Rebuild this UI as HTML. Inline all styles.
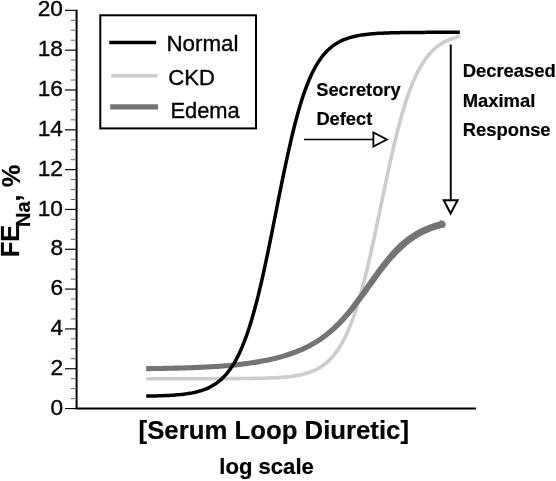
<!DOCTYPE html>
<html><head><meta charset="utf-8"><title>Loop diuretic dose response</title>
<style>
html,body{margin:0;padding:0;background:#fff;}
body{width:556px;height:481px;overflow:hidden;font-family:"Liberation Sans",sans-serif;}
svg{display:block;font-family:"Liberation Sans",sans-serif;}
</style></head><body>
<svg width="556" height="481" viewBox="0 0 556 481">
<rect width="556" height="481" fill="#fff"/>
<!-- axes -->
<line x1="76.6" x2="76.6" y1="9.80" y2="408.55" stroke="#000" stroke-width="2"/>
<line x1="75.6" x2="475.9" y1="408.55" y2="408.55" stroke="#000" stroke-width="2"/>
<line x1="65" x2="76.6" y1="408.55" y2="408.55" stroke="#000" stroke-width="1.15"/>
<text x="63" y="414.65" text-anchor="end" font-size="22.7" fill="#000" stroke="#000" stroke-width="0.35">0</text>
<line x1="70.7" x2="76.6" y1="398.60" y2="398.60" stroke="#6a6a6a" stroke-width="1"/>
<line x1="70.7" x2="76.6" y1="388.64" y2="388.64" stroke="#6a6a6a" stroke-width="1"/>
<line x1="70.7" x2="76.6" y1="378.69" y2="378.69" stroke="#6a6a6a" stroke-width="1"/>
<line x1="65" x2="76.6" y1="368.73" y2="368.73" stroke="#000" stroke-width="1.15"/>
<text x="63" y="374.83" text-anchor="end" font-size="22.7" fill="#000" stroke="#000" stroke-width="0.35">2</text>
<line x1="70.7" x2="76.6" y1="358.78" y2="358.78" stroke="#6a6a6a" stroke-width="1"/>
<line x1="70.7" x2="76.6" y1="348.82" y2="348.82" stroke="#6a6a6a" stroke-width="1"/>
<line x1="70.7" x2="76.6" y1="338.87" y2="338.87" stroke="#6a6a6a" stroke-width="1"/>
<line x1="65" x2="76.6" y1="328.91" y2="328.91" stroke="#000" stroke-width="1.15"/>
<text x="63" y="335.01" text-anchor="end" font-size="22.7" fill="#000" stroke="#000" stroke-width="0.35">4</text>
<line x1="70.7" x2="76.6" y1="318.96" y2="318.96" stroke="#6a6a6a" stroke-width="1"/>
<line x1="70.7" x2="76.6" y1="309.00" y2="309.00" stroke="#6a6a6a" stroke-width="1"/>
<line x1="70.7" x2="76.6" y1="299.05" y2="299.05" stroke="#6a6a6a" stroke-width="1"/>
<line x1="65" x2="76.6" y1="289.09" y2="289.09" stroke="#000" stroke-width="1.15"/>
<text x="63" y="295.19" text-anchor="end" font-size="22.7" fill="#000" stroke="#000" stroke-width="0.35">6</text>
<line x1="70.7" x2="76.6" y1="279.13" y2="279.13" stroke="#6a6a6a" stroke-width="1"/>
<line x1="70.7" x2="76.6" y1="269.18" y2="269.18" stroke="#6a6a6a" stroke-width="1"/>
<line x1="70.7" x2="76.6" y1="259.23" y2="259.23" stroke="#6a6a6a" stroke-width="1"/>
<line x1="65" x2="76.6" y1="249.27" y2="249.27" stroke="#000" stroke-width="1.15"/>
<text x="63" y="255.37" text-anchor="end" font-size="22.7" fill="#000" stroke="#000" stroke-width="0.35">8</text>
<line x1="70.7" x2="76.6" y1="239.31" y2="239.31" stroke="#6a6a6a" stroke-width="1"/>
<line x1="70.7" x2="76.6" y1="229.36" y2="229.36" stroke="#6a6a6a" stroke-width="1"/>
<line x1="70.7" x2="76.6" y1="219.41" y2="219.41" stroke="#6a6a6a" stroke-width="1"/>
<line x1="65" x2="76.6" y1="209.45" y2="209.45" stroke="#000" stroke-width="1.15"/>
<text x="63" y="215.55" text-anchor="end" font-size="22.7" fill="#000" stroke="#000" stroke-width="0.35">10</text>
<line x1="70.7" x2="76.6" y1="199.50" y2="199.50" stroke="#6a6a6a" stroke-width="1"/>
<line x1="70.7" x2="76.6" y1="189.54" y2="189.54" stroke="#6a6a6a" stroke-width="1"/>
<line x1="70.7" x2="76.6" y1="179.59" y2="179.59" stroke="#6a6a6a" stroke-width="1"/>
<line x1="65" x2="76.6" y1="169.63" y2="169.63" stroke="#000" stroke-width="1.15"/>
<text x="63" y="175.73" text-anchor="end" font-size="22.7" fill="#000" stroke="#000" stroke-width="0.35">12</text>
<line x1="70.7" x2="76.6" y1="159.68" y2="159.68" stroke="#6a6a6a" stroke-width="1"/>
<line x1="70.7" x2="76.6" y1="149.72" y2="149.72" stroke="#6a6a6a" stroke-width="1"/>
<line x1="70.7" x2="76.6" y1="139.76" y2="139.76" stroke="#6a6a6a" stroke-width="1"/>
<line x1="65" x2="76.6" y1="129.81" y2="129.81" stroke="#000" stroke-width="1.15"/>
<text x="63" y="135.91" text-anchor="end" font-size="22.7" fill="#000" stroke="#000" stroke-width="0.35">14</text>
<line x1="70.7" x2="76.6" y1="119.86" y2="119.86" stroke="#6a6a6a" stroke-width="1"/>
<line x1="70.7" x2="76.6" y1="109.90" y2="109.90" stroke="#6a6a6a" stroke-width="1"/>
<line x1="70.7" x2="76.6" y1="99.94" y2="99.94" stroke="#6a6a6a" stroke-width="1"/>
<line x1="65" x2="76.6" y1="89.99" y2="89.99" stroke="#000" stroke-width="1.15"/>
<text x="63" y="96.09" text-anchor="end" font-size="22.7" fill="#000" stroke="#000" stroke-width="0.35">16</text>
<line x1="70.7" x2="76.6" y1="80.04" y2="80.04" stroke="#6a6a6a" stroke-width="1"/>
<line x1="70.7" x2="76.6" y1="70.08" y2="70.08" stroke="#6a6a6a" stroke-width="1"/>
<line x1="70.7" x2="76.6" y1="60.12" y2="60.12" stroke="#6a6a6a" stroke-width="1"/>
<line x1="65" x2="76.6" y1="50.17" y2="50.17" stroke="#000" stroke-width="1.15"/>
<text x="63" y="56.27" text-anchor="end" font-size="22.7" fill="#000" stroke="#000" stroke-width="0.35">18</text>
<line x1="70.7" x2="76.6" y1="40.22" y2="40.22" stroke="#6a6a6a" stroke-width="1"/>
<line x1="70.7" x2="76.6" y1="30.26" y2="30.26" stroke="#6a6a6a" stroke-width="1"/>
<line x1="70.7" x2="76.6" y1="20.31" y2="20.31" stroke="#6a6a6a" stroke-width="1"/>
<line x1="65" x2="76.6" y1="10.35" y2="10.35" stroke="#000" stroke-width="1.15"/>
<text x="63" y="16.45" text-anchor="end" font-size="22.7" fill="#000" stroke="#000" stroke-width="0.35">20</text>

<!-- curves -->
<path d="M146.20 378.70 L148.29 378.70 L150.38 378.70 L152.47 378.70 L154.56 378.70 L156.65 378.70 L158.74 378.70 L160.83 378.70 L162.93 378.70 L165.02 378.70 L167.11 378.70 L169.20 378.70 L171.29 378.70 L173.38 378.70 L175.47 378.70 L177.56 378.70 L179.65 378.70 L181.74 378.69 L183.83 378.69 L185.92 378.69 L188.01 378.69 L190.10 378.69 L192.19 378.69 L194.29 378.69 L196.38 378.69 L198.47 378.69 L200.56 378.68 L202.65 378.68 L204.74 378.68 L206.83 378.68 L208.92 378.68 L211.01 378.67 L213.10 378.67 L215.19 378.67 L217.28 378.66 L219.37 378.66 L221.46 378.65 L223.55 378.65 L225.65 378.64 L227.74 378.63 L229.83 378.62 L231.92 378.61 L234.01 378.60 L236.10 378.59 L238.19 378.58 L240.28 378.56 L242.37 378.54 L244.46 378.53 L246.55 378.50 L248.64 378.48 L250.73 378.45 L252.82 378.42 L254.91 378.39 L257.01 378.35 L259.10 378.31 L261.19 378.26 L263.28 378.20 L265.37 378.14 L267.46 378.07 L269.55 378.00 L271.64 377.91 L273.73 377.81 L275.82 377.70 L277.91 377.58 L280.00 377.44 L282.09 377.29 L284.18 377.11 L286.27 376.92 L288.37 376.70 L290.46 376.46 L292.55 376.18 L294.64 375.87 L296.73 375.53 L298.82 375.14 L300.91 374.71 L303.00 374.22 L305.09 373.68 L307.18 373.07 L309.27 372.39 L311.36 371.63 L313.45 370.78 L315.54 369.83 L317.63 368.76 L319.73 367.58 L321.82 366.26 L323.91 364.78 L326.00 363.14 L328.09 361.32 L330.18 359.30 L332.27 357.06 L334.36 354.58 L336.45 351.83 L338.54 348.81 L340.63 345.48 L342.72 341.82 L344.81 337.81 L346.90 333.42 L348.99 328.65 L351.09 323.46 L353.18 317.85 L355.27 311.79 L357.36 305.29 L359.45 298.34 L361.54 290.94 L363.63 283.11 L365.72 274.86 L367.81 266.21 L369.90 257.20 L371.99 247.88 L374.08 238.28 L376.17 228.47 L378.26 218.51 L380.35 208.46 L382.45 198.39 L384.54 188.36 L386.63 178.45 L388.72 168.72 L390.81 159.22 L392.90 150.01 L394.99 141.14 L397.08 132.64 L399.17 124.54 L401.26 116.87 L403.35 109.64 L405.44 102.87 L407.53 96.54 L409.62 90.65 L411.71 85.20 L413.81 80.18 L415.90 75.55 L417.99 71.32 L420.08 67.44 L422.17 63.91 L424.26 60.70 L426.35 57.78 L428.44 55.14 L430.53 52.76 L432.62 50.60 L434.71 48.66 L436.80 46.91 L438.89 45.33 L440.98 43.92 L443.07 42.65 L445.17 41.52 L447.26 40.50 L449.35 39.59 L451.44 38.77 L453.53 38.04 L455.62 37.39 L457.71 36.80 L459.80 36.28" fill="none" stroke="#cdcdcd" stroke-width="3.6"/>
<path d="M146.17 366.08 L147.66 366.07 L149.15 366.05 L150.64 366.03 L152.13 366.01 L153.62 365.99 L155.10 365.97 L156.59 365.95 L158.08 365.93 L159.57 365.90 L161.06 365.88 L162.55 365.85 L164.03 365.83 L165.52 365.80 L167.01 365.77 L168.50 365.74 L169.99 365.71 L171.47 365.68 L172.96 365.65 L174.45 365.62 L175.94 365.58 L177.43 365.54 L178.91 365.51 L180.40 365.47 L181.89 365.42 L183.38 365.38 L184.86 365.34 L186.35 365.29 L187.84 365.24 L189.32 365.20 L190.81 365.14 L192.30 365.09 L193.78 365.04 L195.27 364.98 L196.76 364.92 L198.24 364.86 L199.73 364.79 L201.21 364.73 L202.70 364.66 L204.19 364.59 L205.67 364.51 L207.16 364.44 L208.64 364.36 L210.13 364.28 L211.61 364.19 L213.10 364.10 L214.58 364.01 L216.06 363.92 L217.55 363.82 L219.03 363.72 L220.52 363.61 L222.00 363.50 L223.48 363.39 L224.97 363.27 L226.45 363.15 L227.93 363.02 L229.41 362.89 L230.89 362.76 L232.38 362.62 L233.86 362.47 L235.34 362.33 L236.82 362.17 L238.30 362.01 L239.78 361.84 L241.26 361.67 L242.74 361.50 L244.22 361.31 L245.70 361.12 L247.18 360.93 L248.66 360.73 L250.14 360.52 L251.61 360.30 L253.09 360.08 L254.57 359.85 L256.05 359.61 L257.52 359.36 L259.00 359.11 L260.48 358.84 L261.95 358.57 L263.43 358.29 L264.90 358.00 L266.38 357.70 L267.85 357.40 L269.32 357.08 L270.80 356.75 L272.27 356.41 L273.74 356.06 L275.21 355.70 L276.68 355.32 L278.15 354.94 L279.62 354.54 L281.09 354.13 L282.56 353.70 L284.03 353.26 L285.50 352.81 L286.96 352.34 L288.43 351.86 L289.90 351.36 L291.36 350.85 L292.83 350.32 L294.29 349.77 L295.75 349.20 L297.22 348.61 L298.68 348.00 L300.14 347.38 L301.60 346.73 L303.06 346.06 L304.52 345.37 L305.98 344.65 L307.44 343.91 L308.90 343.14 L310.35 342.34 L311.81 341.52 L313.27 340.67 L314.72 339.79 L316.18 338.88 L317.64 337.93 L319.09 336.95 L320.54 335.93 L321.98 334.87 L323.43 333.78 L324.88 332.65 L326.33 331.48 L327.77 330.27 L329.22 329.02 L330.67 327.73 L332.12 326.40 L333.57 325.02 L335.02 323.61 L336.47 322.15 L337.92 320.64 L339.38 319.09 L340.83 317.50 L342.28 315.87 L343.74 314.19 L345.20 312.47 L346.66 310.71 L348.12 308.91 L349.58 307.07 L351.04 305.19 L352.50 303.28 L353.97 301.34 L355.43 299.36 L356.90 297.36 L358.37 295.33 L359.84 293.29 L361.31 291.22 L362.79 289.14 L364.26 287.05 L365.74 284.95 L367.22 282.84 L368.70 280.74 L370.18 278.64 L371.66 276.55 L373.15 274.47 L374.63 272.41 L376.12 270.36 L377.61 268.34 L379.09 266.33 L380.58 264.36 L382.06 262.41 L383.55 260.51 L385.05 258.63 L386.54 256.80 L388.04 255.01 L389.54 253.26 L391.04 251.55 L392.55 249.90 L394.06 248.28 L395.57 246.72 L397.08 245.20 L398.61 243.75 L400.15 242.36 L401.70 241.01 L403.24 239.71 L404.79 238.47 L406.33 237.27 L407.88 236.12 L409.43 235.02 L410.98 233.97 L412.54 232.96 L414.09 232.00 L415.64 231.08 L417.20 230.20 L418.75 229.37 L420.30 228.58 L421.86 227.82 L423.41 227.10 L424.96 226.42 L426.51 225.78 L428.06 225.17 L429.61 224.59 L431.15 224.04 L432.70 223.52 L434.24 223.02 L435.78 222.56 L437.32 222.12 L438.86 221.70 L440.39 221.31 L441.92 220.94 L443.44 220.60 L444.96 227.23 L443.50 227.57 L442.05 227.92 L440.60 228.30 L439.16 228.70 L437.72 229.11 L436.28 229.56 L434.84 230.02 L433.41 230.51 L431.97 231.03 L430.54 231.57 L429.11 232.14 L427.68 232.75 L426.25 233.38 L424.82 234.05 L423.40 234.75 L421.97 235.48 L420.54 236.26 L419.12 237.07 L417.69 237.92 L416.26 238.81 L414.84 239.74 L413.41 240.72 L411.98 241.74 L410.55 242.81 L409.11 243.93 L407.68 245.09 L406.24 246.31 L404.81 247.57 L403.37 248.88 L401.92 250.24 L400.45 251.64 L398.98 253.08 L397.51 254.58 L396.04 256.13 L394.56 257.73 L393.08 259.37 L391.60 261.07 L390.11 262.81 L388.63 264.59 L387.14 266.42 L385.64 268.29 L384.15 270.19 L382.65 272.12 L381.16 274.10 L379.67 276.10 L378.17 278.12 L376.68 280.16 L375.18 282.23 L373.68 284.30 L372.18 286.38 L370.68 288.46 L369.18 290.55 L367.67 292.63 L366.17 294.71 L364.66 296.77 L363.15 298.82 L361.64 300.86 L360.13 302.87 L358.61 304.85 L357.10 306.81 L355.58 308.74 L354.06 310.64 L352.54 312.51 L351.02 314.33 L349.50 316.12 L347.98 317.87 L346.46 319.58 L344.93 321.25 L343.40 322.88 L341.88 324.46 L340.35 326.00 L338.82 327.49 L337.29 328.95 L335.76 330.36 L334.23 331.72 L332.70 333.05 L331.17 334.33 L329.63 335.57 L328.10 336.77 L326.57 337.93 L325.04 339.05 L323.50 340.13 L321.97 341.17 L320.44 342.19 L318.92 343.18 L317.40 344.13 L315.87 345.05 L314.35 345.94 L312.83 346.80 L311.30 347.63 L309.78 348.43 L308.26 349.21 L306.74 349.96 L305.22 350.68 L303.70 351.38 L302.18 352.05 L300.66 352.70 L299.14 353.33 L297.63 353.94 L296.11 354.53 L294.59 355.10 L293.08 355.65 L291.56 356.18 L290.05 356.70 L288.54 357.20 L287.02 357.68 L285.51 358.14 L284.00 358.60 L282.49 359.03 L280.98 359.46 L279.47 359.86 L277.96 360.26 L276.45 360.64 L274.94 361.01 L273.43 361.37 L271.92 361.72 L270.42 362.06 L268.91 362.38 L267.40 362.70 L265.90 363.00 L264.39 363.30 L262.89 363.59 L261.38 363.86 L259.88 364.13 L258.38 364.39 L256.87 364.64 L255.37 364.88 L253.87 365.12 L252.37 365.35 L250.86 365.57 L249.36 365.78 L247.86 365.98 L246.36 366.18 L244.86 366.37 L243.36 366.56 L241.86 366.74 L240.36 366.91 L238.86 367.08 L237.36 367.24 L235.86 367.40 L234.36 367.55 L232.86 367.70 L231.37 367.84 L229.87 367.97 L228.37 368.10 L226.87 368.23 L225.37 368.35 L223.88 368.47 L222.38 368.59 L220.88 368.70 L219.39 368.80 L217.89 368.91 L216.40 369.01 L214.90 369.10 L213.40 369.19 L211.91 369.28 L210.41 369.37 L208.92 369.45 L207.42 369.53 L205.93 369.61 L204.43 369.68 L202.94 369.75 L201.45 369.82 L199.95 369.89 L198.46 369.95 L196.96 370.02 L195.47 370.08 L193.98 370.13 L192.48 370.19 L190.99 370.24 L189.50 370.29 L188.00 370.34 L186.51 370.39 L185.02 370.44 L183.52 370.48 L182.03 370.52 L180.54 370.56 L179.05 370.60 L177.55 370.64 L176.06 370.68 L174.57 370.71 L173.08 370.75 L171.59 370.78 L170.09 370.81 L168.60 370.84 L167.11 370.87 L165.62 370.90 L164.13 370.93 L162.63 370.95 L161.14 370.98 L159.65 371.00 L158.16 371.03 L156.67 371.05 L155.18 371.07 L153.68 371.09 L152.19 371.11 L150.70 371.13 L149.21 371.15 L147.72 371.17 L146.23 371.18Z" fill="#747474" stroke="none"/>
<circle cx="442.4" cy="224.4" r="3.2" fill="#747474"/><rect x="439.6" y="220.3" width="2.6" height="2.5" rx="0.8" fill="#747474"/>
<path d="M146.20 396.12 L148.29 396.09 L150.38 396.05 L152.47 396.01 L154.56 395.96 L156.65 395.90 L158.74 395.84 L160.83 395.77 L162.93 395.70 L165.02 395.61 L167.11 395.51 L169.20 395.41 L171.29 395.28 L173.38 395.15 L175.47 394.99 L177.56 394.82 L179.65 394.63 L181.74 394.41 L183.83 394.17 L185.92 393.89 L188.01 393.59 L190.10 393.24 L192.19 392.86 L194.29 392.43 L196.38 391.95 L198.47 391.41 L200.56 390.80 L202.65 390.12 L204.74 389.37 L206.83 388.52 L208.92 387.57 L211.01 386.52 L213.10 385.34 L215.19 384.02 L217.28 382.56 L219.37 380.93 L221.46 379.12 L223.55 377.10 L225.65 374.87 L227.74 372.39 L229.83 369.66 L231.92 366.64 L234.01 363.31 L236.10 359.65 L238.19 355.63 L240.28 351.24 L242.37 346.44 L244.46 341.23 L246.55 335.57 L248.64 329.47 L250.73 322.89 L252.82 315.85 L254.91 308.34 L257.01 300.36 L259.10 291.93 L261.19 283.08 L263.28 273.83 L265.37 264.23 L267.46 254.31 L269.55 244.14 L271.64 233.78 L273.73 223.28 L275.82 212.73 L277.91 202.18 L280.00 191.72 L282.09 181.41 L284.18 171.31 L286.27 161.43 L288.37 151.82 L290.46 142.56 L292.55 133.69 L294.64 125.25 L296.73 117.28 L298.82 109.77 L300.91 102.76 L303.00 96.23 L305.09 90.18 L307.18 84.60 L309.27 79.48 L311.36 74.79 L313.45 70.51 L315.54 66.62 L317.63 63.08 L319.73 59.89 L321.82 57.00 L323.91 54.39 L326.00 52.04 L328.09 49.94 L330.18 48.04 L332.27 46.35 L334.36 44.83 L336.45 43.46 L338.54 42.25 L340.63 41.16 L342.72 40.19 L344.81 39.32 L346.90 38.55 L348.99 37.86 L351.09 37.25 L353.18 36.70 L355.27 36.21 L357.36 35.78 L359.45 35.39 L361.54 35.05 L363.63 34.75 L365.72 34.47 L367.81 34.23 L369.90 34.02 L371.99 33.83 L374.08 33.66 L376.17 33.50 L378.26 33.37 L380.35 33.25 L382.45 33.14 L384.54 33.05 L386.63 32.97 L388.72 32.89 L390.81 32.83 L392.90 32.77 L394.99 32.72 L397.08 32.67 L399.17 32.63 L401.26 32.59 L403.35 32.56 L405.44 32.53 L407.53 32.50 L409.62 32.48 L411.71 32.46 L413.81 32.44 L415.90 32.43 L417.99 32.41 L420.08 32.40 L422.17 32.39 L424.26 32.38 L426.35 32.37 L428.44 32.36 L430.53 32.36 L432.62 32.35 L434.71 32.34 L436.80 32.34 L438.89 32.33 L440.98 32.33 L443.07 32.33 L445.17 32.32 L447.26 32.32 L449.35 32.32 L451.44 32.32 L453.53 32.32 L455.62 32.31 L457.71 32.31 L459.80 32.31" fill="none" stroke="#000" stroke-width="3.5"/>
<!-- legend -->
<rect x="100.3" y="15.3" width="155.7" height="113.1" fill="#fff" stroke="#000" stroke-width="2"/>
<line x1="109.3" x2="156.2" y1="42.5" y2="42.5" stroke="#000" stroke-width="3.6"/>
<line x1="111.3" x2="157.6" y1="75.7" y2="75.7" stroke="#cdcdcd" stroke-width="3.6"/>
<line x1="110.2" x2="158" y1="106.9" y2="106.9" stroke="#747474" stroke-width="5.3"/>
<text x="166.4" y="50.9" font-size="22.4" stroke="#000" stroke-width="0.35">Normal</text>
<text x="168.2" y="85.4" font-size="22.1" stroke="#000" stroke-width="0.35">CKD</text>
<text x="170.4" y="117.9" font-size="21.9" stroke="#000" stroke-width="0.35">Edema</text>
<!-- annotations -->
<text x="316.25" y="95.6" font-size="18.3" font-weight="bold" stroke="#000" stroke-width="0.2">Secretory</text>
<text x="316.4" y="125.4" font-size="18.3" font-weight="bold" stroke="#000" stroke-width="0.2">Defect</text>
<line x1="304" x2="373" y1="139.45" y2="139.45" stroke="#000" stroke-width="1.5"/>
<polygon points="373.4,132.5 373.4,146.5 386.85,139.5" fill="#fff" stroke="#000" stroke-width="1.8"/>
<text x="462.7" y="77.1" font-size="18.4" font-weight="bold" stroke="#000" stroke-width="0.2">Decreased</text>
<text x="462.7" y="107" font-size="18.4" font-weight="bold" stroke="#000" stroke-width="0.2">Maximal</text>
<text x="462.7" y="136.2" font-size="18.4" font-weight="bold" stroke="#000" stroke-width="0.2">Response</text>
<line x1="450.75" x2="450.75" y1="44.5" y2="200" stroke="#000" stroke-width="1.9"/>
<polygon points="443.75,200.2 457.55,200.2 450.65,213.57" fill="#fff" stroke="#000" stroke-width="2"/>
<!-- axis titles -->
<text x="138.6" y="439.1" font-size="25.75" font-weight="bold" stroke="#000" stroke-width="0.2">[Serum Loop Diuretic]</text>
<text x="219.25" y="474.1" font-size="22.1" font-weight="bold" stroke="#000" stroke-width="0.2">log scale</text>
<text transform="translate(19.4 257.3) rotate(-90)" font-size="25.5" font-weight="bold" stroke="#000" stroke-width="0.2">FE<tspan font-size="20" dy="10.5" dx="-2.3">Na</tspan><tspan dy="-10" dx="0">, %</tspan></text>
</svg>
</body></html>
